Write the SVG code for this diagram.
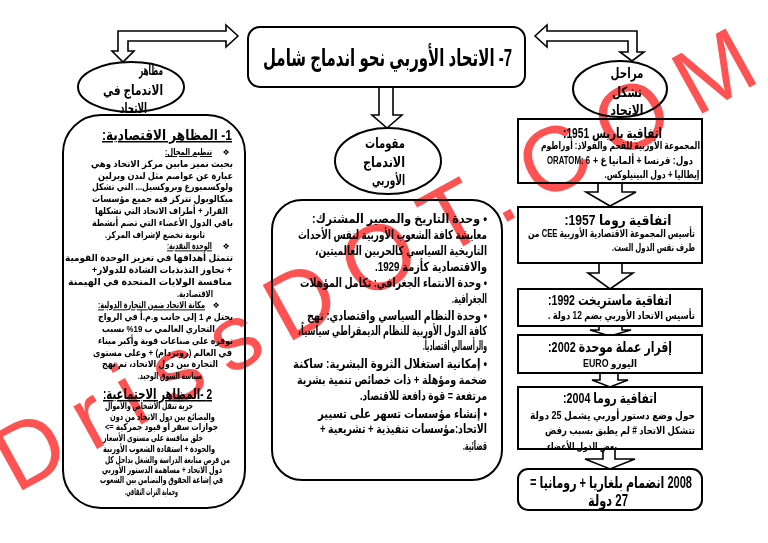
<svg xmlns="http://www.w3.org/2000/svg" width="768" height="543" viewBox="0 0 768 543">
<style>
.bg{fill:#fff}
.box{fill:#fff;stroke:#000;stroke-width:2}
.arr{fill:#fff;stroke:#000;stroke-width:1.6;stroke-linejoin:miter}
.t{font-family:"Liberation Sans","DejaVu Sans",sans-serif;font-weight:bold;direction:rtl;text-anchor:middle;fill:#000}
.s8{font-size:8px}
.s9{font-size:9.5px}
.s10{font-size:10.5px}
.s12{font-size:12.5px}
.s14{font-size:14px}
.s15{font-size:15px}
.s16{font-size:16px}
.s24{font-size:24px}
.u{text-decoration:underline}
.wm{font-family:"Liberation Sans",sans-serif;font-size:92px;letter-spacing:20px;fill:#ff3535;opacity:0.85;mix-blend-mode:multiply}
</style>
<rect class="bg" x="0" y="0" width="768" height="543"/>

<g id="connectors">
<path class="arr" d="M238 36 L226 25 L226 31 L118 31 L118 51 L112 51 L123 62 L134 51 L128 51 L128 41 L226 41 L226 47 Z"/>
<path class="arr" d="M535 36 L547 25 L547 31 L637 31 L637 52 L644 52 L632 61 L620 52 L628 52 L628 41 L547 41 L547 47 Z"/>
<path class="arr" d="M379 87 L393 87 L393 115 L402 115 L387 128 L372 115 L379 115 Z"/>
<path class="arr" d="M598 183 L622 183 L622 192 L636 192 L610 206 L586 192 L598 192 Z"/>
<path class="arr" d="M599 263 L622 263 L622 273 L633 273 L610 289 L588 273 L599 273 Z"/>
<path class="arr" d="M599 326 L622 326 L622 330 L631 330 L610 336 L590 330 L599 330 Z"/>
<path class="arr" d="M600 373 L618 373 L618 380 L628 380 L610 387 L592 380 L600 380 Z"/>
<path class="arr" d="M603 449 L615 449 L615 459 L635 459 L610 469 L585 459 L603 459 Z"/>
</g>

<g id="title">
<rect class="box" x="248" y="27" width="277" height="60" rx="12"/>
<text class="t s24" x="387.5" y="66" textLength="249" lengthAdjust="spacingAndGlyphs">7- الاتحاد الأوربي نحو اندماج شامل</text>
</g>

<g id="ellipse-left">
<ellipse class="box" cx="131" cy="87" rx="53" ry="25"/>
<text class="t s14" x="151" y="75" textLength="24" lengthAdjust="spacingAndGlyphs">مظاهر</text>
<text class="t s14" x="133" y="95" textLength="60" lengthAdjust="spacingAndGlyphs">الاندماج في</text>
<text class="t s14" x="133.5" y="113" textLength="27" lengthAdjust="spacingAndGlyphs">الاتحاد</text>
</g>

<g id="ellipse-right">
<ellipse class="box" cx="620" cy="89" rx="47" ry="28"/>
<text class="t s14" x="627" y="78" textLength="33" lengthAdjust="spacingAndGlyphs">مراحل</text>
<text class="t s14" x="627" y="97" textLength="30" lengthAdjust="spacingAndGlyphs">تشكل</text>
<text class="t s14" x="627" y="115" textLength="33" lengthAdjust="spacingAndGlyphs">الاتحاد</text>
</g>

<g id="ellipse-middle">
<ellipse class="box" cx="388" cy="161" rx="53" ry="33"/>
<text class="t s14" x="385" y="148" textLength="40" lengthAdjust="spacingAndGlyphs">مقومات</text>
<text class="t s14" x="384" y="167" textLength="42" lengthAdjust="spacingAndGlyphs">الاندماج</text>
<text class="t s14" x="388.5" y="185" textLength="33" lengthAdjust="spacingAndGlyphs">الأوربي</text>
</g>

<g id="box-left">
<rect class="box" x="63" y="115" width="182" height="393" rx="38"/>
<text class="t s15 u" x="167" y="140" textLength="130" lengthAdjust="spacingAndGlyphs">1- المظاهر الاقتصادية:</text>
<text class="t s8" x="226" y="155">❖</text>
<text class="t s9 u" x="188.5" y="155" textLength="47" lengthAdjust="spacingAndGlyphs">تنظيم المجال:</text>
<text class="t s9" x="162" y="166.8" textLength="142" lengthAdjust="spacingAndGlyphs">بحيث نميز مابين مركز الاتحاد وهي</text>
<text class="t s9" x="165.5" y="178.6" textLength="135" lengthAdjust="spacingAndGlyphs">عبارة عن عواصم  مثل لندن وبرلين</text>
<text class="t s9" x="162.5" y="190.4" textLength="141" lengthAdjust="spacingAndGlyphs">ولوكسمبورغ وبروكسيل... التي تشكل</text>
<text class="t s9" x="162.5" y="202.2" textLength="141" lengthAdjust="spacingAndGlyphs">ميكالوبول تتركز فيه جميع مؤسسات</text>
<text class="t s9" x="161.5" y="214" textLength="133" lengthAdjust="spacingAndGlyphs">القرار + أطراف الاتحاد التي تشكلها</text>
<text class="t s9" x="162.5" y="225.8" textLength="141" lengthAdjust="spacingAndGlyphs">باقي الدول الأعضاء التي تضم أنشطة</text>
<text class="t s9" x="155" y="237.6" textLength="100" lengthAdjust="spacingAndGlyphs">ثانوية تخضع لإشراف المركز.</text>
<text class="t s8" x="226" y="249.4">❖</text>
<text class="t s9 u" x="189.5" y="249.4" textLength="45" lengthAdjust="spacingAndGlyphs">الوحدة النقدية:</text>
<text class="t s9" x="149" y="261.2" textLength="168" lengthAdjust="spacingAndGlyphs">تتمثل أهدافها في تعزيز الوحدة القومية</text>
<text class="t s9" x="162" y="273" textLength="140" lengthAdjust="spacingAndGlyphs">+ تجاوز التذبذبات الشاذة للدولار+</text>
<text class="t s9" x="150" y="284.8" textLength="164" lengthAdjust="spacingAndGlyphs">منافسة الولايات المتحدة في الهيمنة</text>
<text class="t s9" x="195" y="296.6" textLength="36" lengthAdjust="spacingAndGlyphs">الاقتصادية.</text>
<text class="t s8" x="216" y="308.4">❖</text>
<text class="t s9 u" x="151.5" y="308.4" textLength="107" lengthAdjust="spacingAndGlyphs">مكانة الاتحاد ضمن التجارة الدولية:</text>
<text class="t s9" x="165.5" y="320.2" textLength="135" lengthAdjust="spacingAndGlyphs">يحتل م 1 إلى جانب و.م.أ في الرواج</text>
<text class="t s9" x="158.5" y="332" textLength="113" lengthAdjust="spacingAndGlyphs">التجاري العالمي ب 19% بسبب</text>
<text class="t s9" x="165.5" y="343.8" textLength="135" lengthAdjust="spacingAndGlyphs">توفره على صناعات قوية وأكبر ميناء</text>
<text class="t s9" x="162.5" y="355.6" textLength="139" lengthAdjust="spacingAndGlyphs">في العالم (روتردام) + وعلى مستوى</text>
<text class="t s9" x="160" y="367.4" textLength="116" lengthAdjust="spacingAndGlyphs">التجارة بين دول الاتحاد، تم نهج</text>
<text class="t s9" x="170" y="379.2" textLength="64" lengthAdjust="spacingAndGlyphs">سياسة السوق الوحيد.</text>
<text class="t s15 u" x="157.5" y="399" textLength="109" lengthAdjust="spacingAndGlyphs">2 -المظاهر الاجتماعية:</text>
<text class="t s9" x="149" y="409" textLength="88" lengthAdjust="spacingAndGlyphs">حرية تنقل الأشخاص والأموال</text>
<text class="t s9" x="162.5" y="420" textLength="105" lengthAdjust="spacingAndGlyphs">والبضائع بين دول الاتحاد من دون</text>
<text class="t s9" x="161.5" y="430" textLength="113" lengthAdjust="spacingAndGlyphs">جوازات سفر أو قيود جمركية  =&gt;</text>
<text class="t s9" x="153" y="440.5" textLength="100" lengthAdjust="spacingAndGlyphs">خلق منافسة على مستوى الأسعار</text>
<text class="t s9" x="159" y="451.5" textLength="112" lengthAdjust="spacingAndGlyphs">والجودة + استفادة الشعوب الأوربية</text>
<text class="t s9" x="167.5" y="462.5" textLength="125" lengthAdjust="spacingAndGlyphs">من فرص متابعة الدراسة والشغل بداخل كل</text>
<text class="t s9" x="162" y="472.5" textLength="120" lengthAdjust="spacingAndGlyphs">دول الاتحاد + مساهمة الدستور الأوربي</text>
<text class="t s9" x="161.5" y="483" textLength="123" lengthAdjust="spacingAndGlyphs">في  إشاعة الحقوق والتضامن بين الشعوب</text>
<text class="t s9" x="151.5" y="495" textLength="53" lengthAdjust="spacingAndGlyphs">وحماية التراث الثقافي.</text>
</g>

<g id="box-middle">
<rect class="box" x="272" y="200" width="230" height="280" rx="30"/>
<text class="t s12" x="399.5" y="222.5" textLength="175" lengthAdjust="spacingAndGlyphs">• وحدة التاريخ والمصير المشترك:</text>
<text class="t s12" x="392.5" y="238.5" textLength="189" lengthAdjust="spacingAndGlyphs">معايشة كافة الشعوب الأوربية لنفس الأحداث</text>
<text class="t s12" x="401" y="254.5" textLength="172" lengthAdjust="spacingAndGlyphs">التاريخية السياسي كالحربين العالميتين،</text>
<text class="t s12" x="431" y="270.5" textLength="112" lengthAdjust="spacingAndGlyphs">والاقتصادية كأزمة 1929.</text>
<text class="t s12" x="393.5" y="286.5" textLength="187" lengthAdjust="spacingAndGlyphs">• وحدة الانتماء الجغرافي: تكامل المؤهلات</text>
<text class="t s12" x="469.5" y="303" textLength="35" lengthAdjust="spacingAndGlyphs">الجغرافية.</text>
<text class="t s12" x="397" y="320" textLength="180" lengthAdjust="spacingAndGlyphs">• وحدة النظام السياسي واقتصادي: نهج</text>
<text class="t s12" x="392.5" y="334.5" textLength="189" lengthAdjust="spacingAndGlyphs">كافة الدول الأوربية للنظام الديمقراطي سياسياً،</text>
<text class="t s12" x="455" y="349.5" textLength="64" lengthAdjust="spacingAndGlyphs">والرأسمالي اقتصادياً.</text>
<text class="t s12" x="390" y="367.5" textLength="194" lengthAdjust="spacingAndGlyphs">• إمكانية استغلال الثروة البشرية: ساكنة</text>
<text class="t s12" x="392" y="383.5" textLength="190" lengthAdjust="spacingAndGlyphs">ضخمة ومؤهلة + ذات خصائص تنمية بشرية</text>
<text class="t s12" x="423.5" y="399.5" textLength="127" lengthAdjust="spacingAndGlyphs">مرتفعة = قوة دافعة للاقتصاد.</text>
<text class="t s12" x="402.5" y="417.5" textLength="169" lengthAdjust="spacingAndGlyphs">• إنشاء مؤسسات تسهر على تسيير</text>
<text class="t s12" x="403.5" y="432.5" textLength="167" lengthAdjust="spacingAndGlyphs">الاتحاد:مؤسسات تنفيذية + تشريعية +</text>
<text class="t s12" x="475" y="449.5" textLength="24" lengthAdjust="spacingAndGlyphs">قضائية.</text>
</g>

<g id="box-1951">
<rect class="box" x="518" y="119" width="184" height="64"/>
<text class="t s14" x="612.5" y="138" textLength="99" lengthAdjust="spacingAndGlyphs">اتفاقية باريس 1951:</text>
<text class="t s10" x="620.5" y="149" textLength="159" lengthAdjust="spacingAndGlyphs">المجموعة الأوربية للفحم والفولاذ: أوراطوم</text>
<text class="t s10" x="568.5" y="164" style="direction:ltr" textLength="43" lengthAdjust="spacingAndGlyphs">ORATOM: 6</text>
<text class="t s10" x="643" y="164" textLength="100" lengthAdjust="spacingAndGlyphs">دول: فرنسا + ألمانيا غ +</text>
<text class="t s10" x="652" y="178" textLength="95" lengthAdjust="spacingAndGlyphs">إيطاليا + دول البينيلوكس.</text>
</g>

<g id="box-1957">
<rect class="box" x="518" y="207" width="184" height="56"/>
<text class="t s14" x="618" y="225" textLength="107" lengthAdjust="spacingAndGlyphs">اتفاقية روما 1957:</text>
<text class="t s10" x="611.5" y="237" textLength="167" lengthAdjust="spacingAndGlyphs">تأسيس المجموعة الاقتصادية الأوربية CEE من</text>
<text class="t s10" x="653.5" y="251" textLength="83" lengthAdjust="spacingAndGlyphs">طرف نفس الدول الست.</text>
</g>

<g id="box-1992">
<rect class="box" x="518" y="289" width="184" height="37"/>
<text class="t s14" x="610" y="305" textLength="124" lengthAdjust="spacingAndGlyphs">اتفاقية ماستريخت 1992:</text>
<text class="t s10" x="621.5" y="319" textLength="147" lengthAdjust="spacingAndGlyphs">تأسيس الاتحاد الأوربي بضم 12 دولة .</text>
</g>

<g id="box-2002">
<rect class="box" x="518" y="335" width="184" height="38"/>
<text class="t s15" x="610" y="352" textLength="124" lengthAdjust="spacingAndGlyphs">إقرار عملة موحدة 2002:</text>
<text class="t s10" x="610" y="367" textLength="54" lengthAdjust="spacingAndGlyphs">اليورو  EURO</text>
</g>

<g id="box-2004">
<rect class="box" x="518" y="387" width="184" height="62"/>
<text class="t s14" x="610" y="403" textLength="94" lengthAdjust="spacingAndGlyphs">اتفاقية روما 2004:</text>
<text class="t s10" x="612.5" y="419" textLength="165" lengthAdjust="spacingAndGlyphs">حول وضع دستور أوربي يشمل 25 دولة</text>
<text class="t s10" x="620" y="434" textLength="150" lengthAdjust="spacingAndGlyphs">تتشكل الاتحاد # لم يطبق بسبب رفض</text>
<text class="t s10" x="581" y="450" textLength="72" lengthAdjust="spacingAndGlyphs">بعض الدول الأعضاء.</text>
</g>

<g id="box-2008">
<rect class="box" x="518" y="469" width="184" height="41" rx="10"/>
<text class="t s16" x="611" y="488" textLength="162" lengthAdjust="spacingAndGlyphs">2008 انضمام بلغاريا + رومانيا =</text>
<text class="t s16" x="608" y="506" textLength="40" lengthAdjust="spacingAndGlyphs">27 دولة</text>
</g>

<text class="wm" transform="translate(16,494) rotate(-29)">DrissDOT.COM</text>
</svg>
